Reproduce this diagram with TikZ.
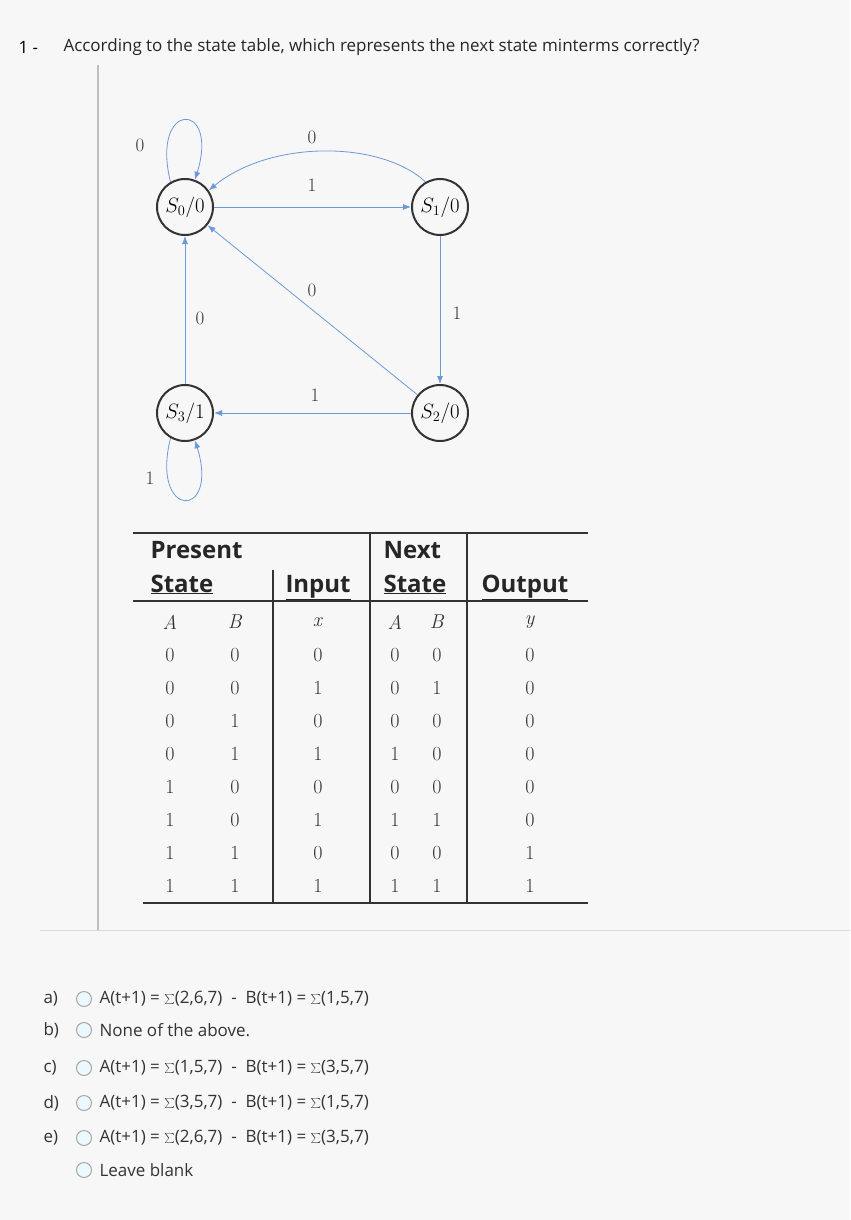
\documentclass[tikz,border=0pt]{standalone}
\usepackage{fontspec}
\setsansfont{Open Sans}
\usetikzlibrary{arrows.meta}
\begin{document}
\begin{tikzpicture}[x=1pt,y=-1pt,
  st/.style={circle,draw=black!80,line width=2pt,minimum size=56pt,inner sep=0pt,font=\fontsize{20}{22}\selectfont},
  ed/.style={draw=cyan!50!blue!60,line width=0.8pt,-{Latex[length=8pt]}},
  lb/.style={font=\fontsize{19}{20}\selectfont,text=black!80},
  hd/.style={font=\sffamily\bfseries\fontsize{24}{26}\selectfont,text=black!85,anchor=base west},
  cl/.style={font=\fontsize{20}{22}\selectfont,text=black!80},
  tl/.style={draw=black!80,line width=1.2pt},
  op/.style={font=\sffamily\fontsize{17}{19}\selectfont,text=black!80,anchor=west},
  rb/.style={circle,draw=gray!70,fill=cyan!8,line width=1pt,minimum size=15pt,inner sep=0pt}]
\fill[gray!6] (0,0) rectangle (850,1220);
\node[font=\sffamily\fontsize{17}{19}\selectfont,anchor=west] (num) at (15,47) {1 -};
\node[font=\sffamily\fontsize{17}{19}\selectfont,anchor=west,text=black!85] (q) at (60,47) {According to the state table, which represents the next state minterms correctly?};
\draw[gray!50,line width=2pt] (98,65) -- (98,930);
\draw[gray!30,line width=1pt] (40,930) -- (850,930);
\node[st] (s0) at (185,207) {$S_0/0$};
\node[st] (s1) at (440,207) {$S_1/0$};
\node[st] (s2) at (440,413) {$S_2/0$};
\node[st] (s3) at (185,413) {$S_3/1$};
\draw[ed] (s0.120) .. controls (150,100) and (220,100) .. (s0.70);
\node[lb] (l0) at (140,145) {0};
\draw[ed] (s3.-120) .. controls (150,520) and (220,520) .. (s3.-70);
\node[lb] (l1) at (150,478) {1};
\draw[ed] (s0) -- (s1);
\node[lb] (l2) at (312,185) {1};
\draw[ed] (s1.120) .. controls (380,140) and (270,140) .. (s0.35);
\node[lb] (l3) at (312,137) {0};
\draw[ed] (s1) -- (s2);
\node[lb] (l4) at (457,313) {1};
\draw[ed] (s2) -- (s0);
\node[lb] (l5) at (312,290) {0};
\draw[ed] (s2) -- (s3);
\node[lb] (l6) at (315,395) {1};
\draw[ed] (s3) -- (s0);
\node[lb] (l7) at (200,318) {0};
% table
\draw[tl] (133,533) -- (588,533);
\draw[tl] (133,601) -- (588,601);
\draw[tl] (143,903) -- (588,903);
\draw[tl] (273,570) -- (273,903);
\draw[tl] (370,533) -- (370,903);
\draw[tl] (467,533) -- (467,903);
\node[hd] (h1) at (147,558) {Present};
\node[hd] (h2) at (147,592) {\underline{State}};
\node[hd] (h3) at (282,592) {\underline{Input}};
\node[hd] (h4) at (380,558) {Next};
\node[hd] (h5) at (380,592) {\underline{State}};
\node[hd] (h6) at (478,592) {\underline{Output}};
\foreach \a/\b/\x/\c/\d/\y [count=\i] in {\textit{A}/\textit{B}/\textit{x}/\textit{A}/\textit{B}/\textit{y},0/0/0/0/0/0,0/0/1/0/1/0,0/1/0/0/0/0,0/1/1/1/0/0,1/0/0/0/0/0,1/0/1/1/1/0,1/1/0/0/0/1,1/1/1/1/1/1}{
  \pgfmathsetmacro\yy{622+33*(\i-1)}
  \node[cl] (ca\i) at (170,\yy) {\a};
  \node[cl] (cb\i) at (235,\yy) {\b};
  \node[cl] (cx\i) at (318,\yy) {\x};
  \node[cl] (cc\i) at (395,\yy) {\c};
  \node[cl] (cd\i) at (437,\yy) {\d};
  \node[cl] (cy\i) at (530,\yy) {\y};
}
% options
\foreach \l/\t/\yy [count=\i] in {a)/{A(t+1) = $\sum$(2,6,7) \ - \ B(t+1) = $\sum$(1,5,7)}/999,
  b)/{None of the above.}/1030,
  c)/{A(t+1) = $\sum$(1,5,7) \ - \ B(t+1) = $\sum$(3,5,7)}/1068,
  d)/{A(t+1) = $\sum$(3,5,7) \ - \ B(t+1) = $\sum$(1,5,7)}/1103,
  e)/{A(t+1) = $\sum$(2,6,7) \ - \ B(t+1) = $\sum$(3,5,7)}/1138,
  /{Leave blank}/1170}{
  \node[op] (ol\i) at (40,\yy) {\l};
  \node[rb] (or\i) at (84,\yy) {};
  \node[op] (ot\i) at (96,\yy) {\t};
}
\end{tikzpicture}
\end{document}
